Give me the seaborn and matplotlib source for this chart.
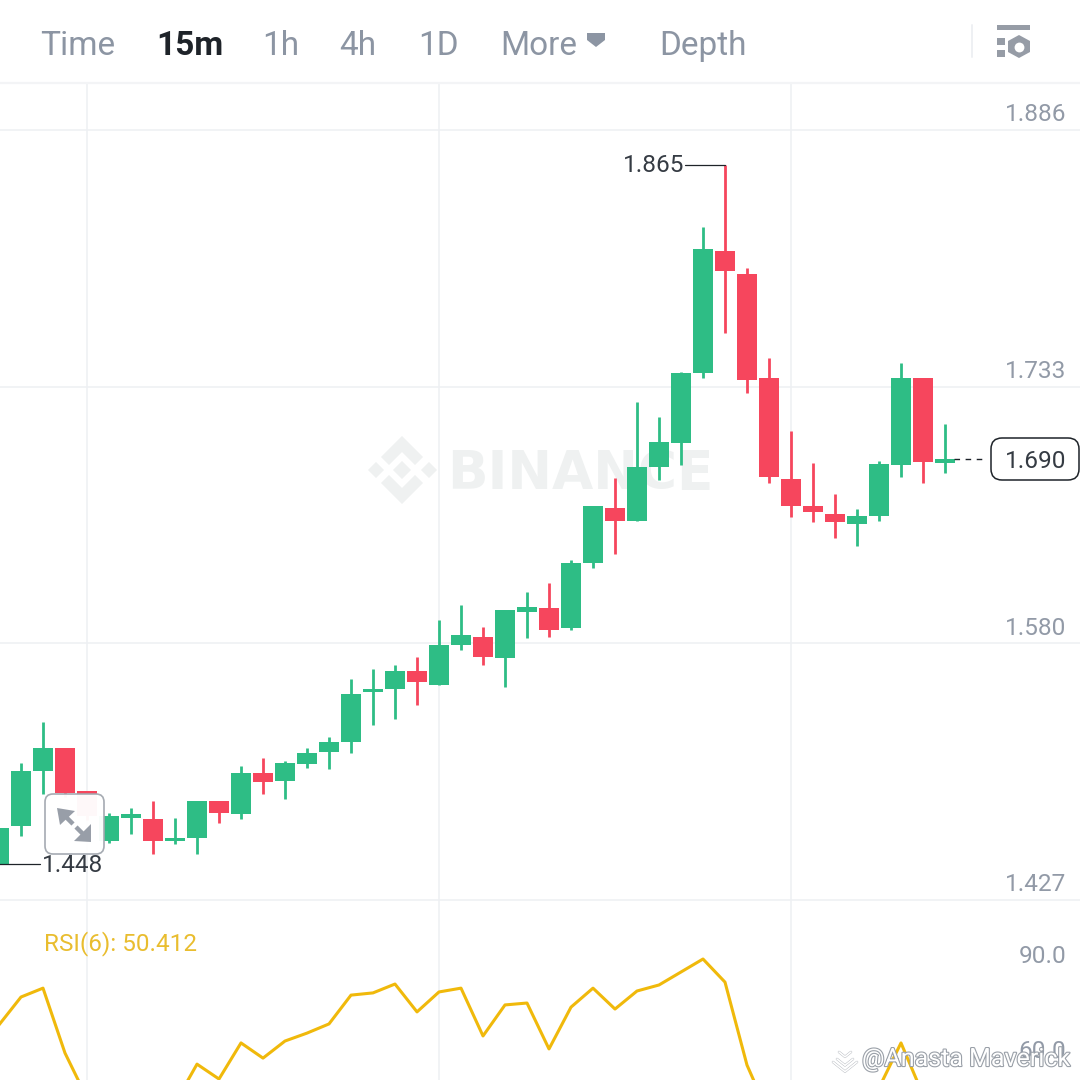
"""
Rebuilds the 15m candlestick + RSI screenshot as a 1080x1080 figure.
"""

import numpy as np
import pandas as pd
import matplotlib

matplotlib.use("Agg")
import matplotlib.pyplot as plt
import matplotlib.patheffects as pe
from matplotlib.patches import FancyBboxPatch, Polygon, Rectangle
import seaborn as sns

opens = [1.4485, 1.4712, 1.5040, 1.5177, 1.4920, 1.4622, 1.4760, 1.4754, 1.4622, 1.4640, 1.4861,
         1.4783, 1.5028, 1.4980, 1.5081, 1.5153, 1.5213, 1.5511, 1.5528, 1.5636, 1.5552, 1.5791,
         1.5838, 1.5713, 1.5987, 1.6011, 1.5892, 1.6279, 1.6607, 1.6530, 1.6851, 1.6995, 1.7412,
         1.8139, 1.8002, 1.7382, 1.6780, 1.6619, 1.6571, 1.6512, 1.6559, 1.6863, 1.7382, 1.6875]
highs = [1.4777, 1.5087, 1.5332, 1.5177, 1.4920, 1.4789, 1.4819, 1.4861, 1.4760, 1.4861, 1.4861,
         1.5069, 1.5117, 1.5099, 1.5177, 1.5242, 1.5588, 1.5648, 1.5671, 1.5719, 1.5940, 1.6029,
         1.5898, 1.5999, 1.6106, 1.6160, 1.6297, 1.6619, 1.6786, 1.7239, 1.7150, 1.7418, 1.8282,
         1.8651, 1.8038, 1.7501, 1.7066, 1.6875, 1.6691, 1.6601, 1.6887, 1.7471, 1.7382, 1.7108]
lows = [1.4485, 1.4652, 1.4903, 1.4885, 1.4748, 1.4610, 1.4664, 1.4545, 1.4605, 1.4545, 1.4730,
        1.4754, 1.4903, 1.4873, 1.5058, 1.5052, 1.5147, 1.5314, 1.5350, 1.5433, 1.5552, 1.5761,
        1.5671, 1.5540, 1.5832, 1.5838, 1.5880, 1.6250, 1.6333, 1.6530, 1.6774, 1.6863, 1.7382,
        1.7650, 1.7293, 1.6756, 1.6553, 1.6524, 1.6428, 1.6381, 1.6530, 1.6792, 1.6756, 1.6816]
closes = [1.4700, 1.5040, 1.5177, 1.4909, 1.4771, 1.4771, 1.4783, 1.4622, 1.4640, 1.4861, 1.4789,
          1.5028, 1.4974, 1.5087, 1.5147, 1.5213, 1.5499, 1.5528, 1.5636, 1.5570, 1.5791, 1.5850,
          1.5719, 1.5999, 1.6017, 1.5880, 1.6279, 1.6619, 1.6530, 1.6851, 1.7000, 1.7412, 1.8151,
          1.8020, 1.7370, 1.6792, 1.6619, 1.6583, 1.6524, 1.6559, 1.6869, 1.7382, 1.6881, 1.6899]
rsi_values = [73.3, 82.1, 84.9, 64.4, 50.2, 43.3, 41.7, 36.9, 48.6, 60.9, 56.2,
              67.6, 62.8, 68.2, 70.7, 73.6, 82.7, 83.4, 86.2, 77.4, 83.7, 84.9,
              69.8, 79.6, 80.2, 65.7, 78.9, 84.9, 78.3, 84.0, 85.9, 90.0, 94.1,
              86.8, 60.6, 44.8, 41.7, 38.5, 36.9, 40.1, 53.4, 67.6, 51.2, 50.412]

price_ticks = [1.886, 1.733, 1.580, 1.427]
price_labels = ["1.886", "1.733", "1.580", "1.427"]
rsi_ticks = [90.0, 60.0]
rsi_labels = ["90.0", "60.0"]
time_grid = [4, 20, 36]
menu_items = ["Time", "15m", "1h", "4h", "1D", "More", "Depth"]

GREEN = "#2ebd85"
RED = "#f6465d"
YELLOW = "#f0b90b"
GRID = "#eef0f3"
AXIS_TEXT = "#929aa7"
DARK = "#1e2329"
DARK_LABEL = "#353b43"
MARK = "#eff1f1"

sns.set_theme(style="white")
plt.rcParams["font.family"] = ["Roboto", "DejaVu Sans"]

df = pd.DataFrame({"open": opens, "high": highs, "low": lows, "close": closes, "rsi": rsi_values})
df["idx"] = np.arange(len(df))
df["color"] = np.where(df["close"] >= df["open"], GREEN, RED)

fig = plt.figure(figsize=(10.8, 10.8), dpi=100, facecolor="white")

# pixel-coordinate layers for the app chrome, one behind and one above the chart
back = fig.add_axes([0, 0, 1, 1], zorder=0)
front = fig.add_axes([0, 0, 1, 1], zorder=3, facecolor="none")
for layer in (back, front):
    layer.set_xlim(0, 1080)
    layer.set_ylim(1080, 0)
    layer.axis("off")

ax = fig.add_axes([0, 180 / 1080, 1, 816 / 1080], zorder=1, facecolor="none")
ax_rsi = fig.add_axes([0, 0, 1, 180 / 1080], zorder=1, facecolor="none")


def style_pane(pane, yticks):
    pane.set_xlim(1 / 22, 1081 / 22)
    pane.set_xticks(time_grid)
    pane.set_yticks(yticks)
    pane.grid(True, color=GRID, linewidth=1.1)
    pane.set_axisbelow(True)
    pane.tick_params(length=0, labelbottom=False, labelleft=False)
    pane.set_xlabel("")
    pane.set_ylabel("")
    sns.despine(ax=pane, left=True, bottom=True, top=True, right=True)


def right_labels(pane, values, labels):
    for value, label in zip(values, labels):
        pane.annotate(label, xy=(1, value), xycoords=pane.get_yaxis_transform(),
                      xytext=(-10, 11), textcoords="offset points",
                      ha="right", va="center", fontsize=17.6, color=AXIS_TEXT)


def draw_watermark():
    cx, cy = 402, 470
    top = [(0, -34), (21, -13), (13, -5), (0, -18), (-13, -5), (-21, -13)]
    back.add_patch(Polygon([(cx + a, cy + b) for a, b in top], color=MARK, lw=0))
    back.add_patch(Polygon([(cx + a, cy - b) for a, b in top], color=MARK, lw=0))
    for dx, half in [(-26, 8), (0, 9), (27, 8)]:
        back.add_patch(Polygon([(cx + dx - half, cy), (cx + dx, cy - half),
                                (cx + dx + half, cy), (cx + dx, cy + half)], color=MARK, lw=0))
    back.text(447, 489, "BINANCE", fontsize=38.4, fontweight="bold", family="DejaVu Sans",
              color=MARK, ha="left", va="baseline")


def draw_header():
    positions = [40, 156, 262, 339, 418, 500, 659]
    for item, x in zip(menu_items, positions):
        active = item == "15m"
        front.text(x, 46, item, fontsize=24, ha="left", va="center",
                   color=DARK if active else "#8c95a3", fontweight="bold" if active else "normal")
    front.add_patch(Polygon([(587, 33), (605, 33), (605, 40), (596, 47), (587, 40)], color="#8c95a3", lw=0))
    front.plot([972, 972], [25, 57], color=GRID, lw=1.4)
    icon = "#969ca6"
    front.add_patch(Rectangle((997, 25), 33, 5, color=icon, lw=0))
    front.add_patch(Rectangle((997, 38), 8, 7, color=icon, lw=0))
    front.add_patch(Rectangle((997, 50), 8, 7, color=icon, lw=0))
    front.add_patch(Polygon([(1019, 35), (1030, 41), (1030, 52), (1019, 58), (1008, 52), (1008, 41)],
                            color=icon, lw=0))
    front.scatter([1019], [46.5], s=50, color="white", lw=0)
    front.plot([0, 1080], [83, 83], color="#f3f4f6", lw=1.6)


def draw_expand_button():
    front.add_patch(FancyBboxPatch((48, 797), 53, 54, boxstyle="round,pad=3,rounding_size=8",
                                   facecolor="white", edgecolor="#a3a8b0", lw=1.2, alpha=0.97))
    gray = "#989ea8"
    front.add_patch(Polygon([(57, 808), (75, 811), (60, 825)], color=gray, lw=0))
    front.add_patch(Polygon([(91, 842), (74, 841), (91, 824)], color=gray, lw=0))
    front.plot([65, 73], [816, 824], color=gray, lw=3.2, solid_capstyle="butt")
    front.plot([76, 84], [827, 835], color=gray, lw=3.2, solid_capstyle="butt")


def draw_footer_mark():
    stroke = [pe.withStroke(linewidth=1.6, foreground="#9aa0a8")]
    front.text(862, 1059, "@Anasta Maverick", fontsize=18, color="white", ha="left", va="center",
               path_effects=stroke)
    cx, cy = 845, 1059
    for dy, half in [(-7, 6), (0, 8), (3, 12)]:
        front.plot([cx - half, cx, cx + half], [cy + dy, cy + dy + half * 0.8, cy + dy],
                   color="white", lw=1.2,
                   path_effects=[pe.withStroke(linewidth=1.8, foreground="#b4b8be")])


# candles
style_pane(ax, price_ticks)
ax.vlines(df["idx"], df["low"], df["high"], colors=df["color"], linewidth=2.0, zorder=3)
ax.bar(df["idx"], (df["close"] - df["open"]).abs(), bottom=df[["open", "close"]].min(axis=1),
       width=0.88, color=df["color"], linewidth=0, zorder=4)
ax.set_ylim(1.42708, 1.9134)
right_labels(ax, price_ticks, price_labels)

# high / low callouts and the last price tag
i_high = df["high"].idxmax()
ax.plot([31.2, i_high], [df["high"].max()] * 2, color=DARK, lw=0.9, zorder=5)
ax.plot([0, 1.87], [df["low"].min()] * 2, color=DARK, lw=0.9, zorder=5)
front.text(684, 166, f"{df['high'].max():.3f}", fontsize=17.6, color=DARK_LABEL, ha="right", va="center")
front.text(42, 866, f"{df['low'].min():.3f}", fontsize=17.6, color=DARK_LABEL, ha="left", va="center")
ax.plot([43.4, 44.8], [1.6899] * 2, color=DARK, lw=1, ls=(0, (4, 4)), zorder=5)
front.add_patch(FancyBboxPatch((1002, 449), 66, 20, boxstyle="round,pad=11,rounding_size=11",
                               facecolor="white", edgecolor=DARK, lw=1.1))
front.text(1066, 462, "1.690", fontsize=17.6, color=DARK_LABEL, ha="right", va="center")

# RSI pane
style_pane(ax_rsi, rsi_ticks)
ax_rsi.set_yticks([])
sns.lineplot(data=df, x="idx", y="rsi", ax=ax_rsi, color=YELLOW, linewidth=2.2, errorbar=None, legend=False)
ax_rsi.set_xlabel("")
ax_rsi.set_ylabel("")
ax_rsi.set_xlim(1 / 22, 1081 / 22)
ax_rsi.set_ylim(55.89, 112.74)
right_labels(ax_rsi, rsi_ticks, rsi_labels)
back.plot([0, 1080], [900, 900], color=GRID, lw=1.1)
front.text(44, 944, f"RSI(6): {rsi_values[-1]:.3f}", fontsize=17.5, color="#e9bd2f", ha="left", va="center")

draw_watermark()
draw_header()
draw_expand_button()
draw_footer_mark()

fig.savefig("out.png", dpi=100)
plt.close(fig)
